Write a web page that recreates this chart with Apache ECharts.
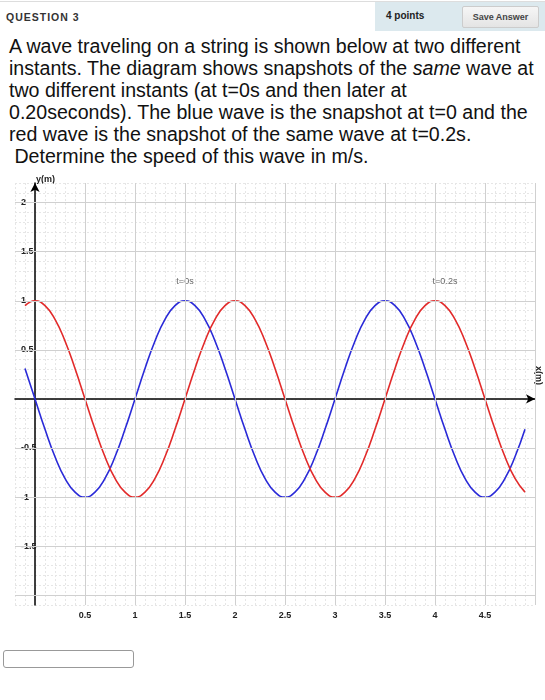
<!DOCTYPE html>
<html><head><meta charset="utf-8">
<script src="https://cdn.jsdelivr.net/npm/echarts@6/dist/echarts.min.js"></script>
<style>
body{margin:0;width:545px;height:700px;background:#fff;position:relative;font-family:"Liberation Sans",Arial,sans-serif;overflow:hidden}
.abs{position:absolute}
#q{left:9px;top:35px;font-size:19.6px;line-height:22px;color:#111;width:545px;white-space:nowrap}
</style></head><body>
<div class="abs" style="left:0;top:1px;width:545px;height:1px;background:#ddd"></div>
<div class="abs" style="left:6px;top:11px;font-size:10.5px;font-weight:bold;letter-spacing:1px;color:#333">QUESTION 3</div>
<div class="abs" style="left:375px;top:2px;width:170px;height:29px;background:#dce9ee"></div>
<div class="abs" style="left:386px;top:10px;font-size:10px;font-weight:bold;color:#222">4 points</div>
<div class="abs" style="left:462px;top:6px;width:75px;height:20px;background:linear-gradient(#f6f6f6,#e4e4e4);border:1px solid #ccc;border-radius:2px;font-size:9px;font-weight:bold;color:#444;text-align:center;line-height:20px">Save Answer</div>
<div id="q" class="abs">A wave traveling on a string is shown below at two different<br>instants. The diagram shows snapshots of the <i>same</i> wave at<br>two different instants (at t=0s and then later at<br>0.20seconds). The blue wave is the snapshot at t=0 and the<br>red wave is the snapshot of the same wave at t=0.2s.<br>&nbsp;Determine the speed of this wave in m/s.</div>
<div id="c" class="abs" style="left:0;top:170px;width:545px;height:450px"></div>
<div class="abs" style="left:3px;top:650px;width:129px;height:16px;border:1px solid #999;border-radius:3px"></div>
<script>
const xs=[-0.1,0,0.1,0.2,0.3,0.4,0.5,0.6,0.7,0.8,0.9,1,1.1,1.2,1.3,1.4,1.5,1.6,1.7,1.8,1.9,2,2.1,2.2,2.3,2.4,2.5,2.6,2.7,2.8,2.9,3,3.1,3.2,3.3,3.4,3.5,3.6,3.7,3.8,3.9,4,4.1,4.2,4.3,4.4,4.5,4.6,4.7,4.8,4.9];
const blueY=[0.31,0,-0.31,-0.59,-0.81,-0.95,-1,-0.95,-0.81,-0.59,-0.31,0,0.31,0.59,0.81,0.95,1,0.95,0.81,0.59,0.31,
0,-0.31,-0.59,-0.81,-0.95,-1,-0.95,-0.81,-0.59,-0.31,0,0.31,0.59,0.81,0.95,1,0.95,0.81,0.59,0.31,
0,-0.31,-0.59,-0.81,-0.95,-1,-0.95,-0.81,-0.59,-0.31];
const redY=[0.95,1,0.95,0.81,0.59,0.31,0,-0.31,-0.59,-0.81,-0.95,-1,-0.95,-0.81,-0.59,-0.31,0,0.31,0.59,0.81,0.95,
1,0.95,0.81,0.59,0.31,0,-0.31,-0.59,-0.81,-0.95,-1,-0.95,-0.81,-0.59,-0.31,0,0.31,0.59,0.81,0.95,
1,0.95,0.81,0.59,0.31,0,-0.31,-0.59,-0.81,-0.95];
const xTicks=[0.5,1,1.5,2,2.5,3,3.5,4,4.5];
const yTicks=[2,1.5,1,0.5,-0.5,-1,-1.5];
const xMajor=[0.5,1,1.5,2,2.5,3,3.5,4,4.5,5];
const yMajor=[2,1.5,1,0.5,-0.5,-1,-1.5,-2];
const notes=[[1.5,1.2,'t=0s'],[4.1,1.2,'t=0.2s']];
const ch=echarts.init(document.getElementById('c'));
const has=(arr,v)=>arr.some(t=>Math.abs(t-v)<1e-6);
ch.setOption({
 animation:false,
 grid:{left:15,top:13,width:520,height:430},
 xAxis:{type:'value',min:-0.2,max:5.0,interval:0.1,
  axisLine:{onZero:true,lineStyle:{color:'#000',width:1.5},symbol:['none','arrow'],symbolSize:[7,9]},
  axisTick:{show:false},
  axisLabel:{fontSize:9,fontWeight:'bold',color:'#222',margin:6,showMinLabel:false,showMaxLabel:false,
   formatter:v=>has(xTicks,v)?String(Math.round(v*10)/10):''},
  splitLine:{lineStyle:{color:'#e6e6e6',type:[2,2]}}},
 yAxis:{type:'value',min:-2.1,max:2.2,interval:0.1,
  axisLine:{onZero:true,lineStyle:{color:'#000',width:1.5},symbol:['none','arrow'],symbolSize:[7,9]},
  axisTick:{show:false},
  axisLabel:{inside:true,fontSize:9,fontWeight:'bold',color:'#222',margin:6,showMinLabel:false,showMaxLabel:false,
   formatter:v=>has(yTicks,v)?String(Math.round(v*10)/10):''},
  splitLine:{lineStyle:{color:'#e6e6e6',type:[2,2]}}},
 series:[
  {type:'line',data:xs.map((x,i)=>[x,blueY[i]]),smooth:true,symbol:'none',lineStyle:{color:'#2a2ad8',width:1.6},z:3,
   markLine:{silent:true,symbol:'none',label:{show:false},lineStyle:{color:'#d0d0d0',type:'solid',width:1},
    data:xMajor.map(v=>({xAxis:v})).concat(yMajor.map(v=>({yAxis:v})))}, zlevel:0},
  {type:'line',data:xs.map((x,i)=>[x,redY[i]]),smooth:true,symbol:'none',lineStyle:{color:'#e22a2a',width:1.6},z:3},
  {type:'scatter',data:notes.map(n=>({value:[n[0],n[1]],name:n[2]})),symbolSize:0,
   label:{show:true,position:'inside',formatter:p=>p.name,fontSize:9,color:'#444'}}
 ],
 graphic:[
  {type:'text',left:36,top:5,style:{text:'y(m)',fontSize:9,fontWeight:'bold',fill:'#222'}},
  {type:'text',x:543,y:196,rotation:-Math.PI/2,style:{text:'x(m)',fontSize:9,fontWeight:'bold',fill:'#222'}}
 ]
});
</script></body></html>
